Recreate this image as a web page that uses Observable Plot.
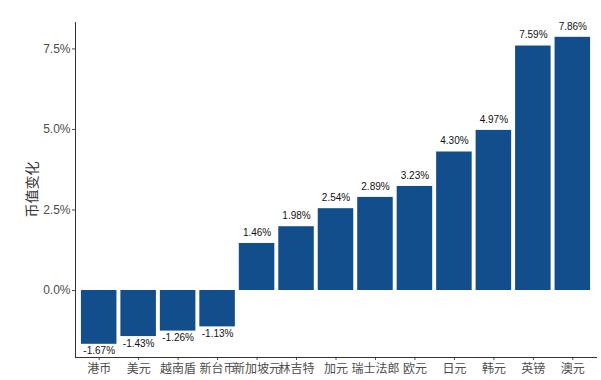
<!DOCTYPE html>
<html><head><meta charset="utf-8">
<script src="https://cdn.jsdelivr.net/npm/d3@7"></script>
<script src="https://cdn.jsdelivr.net/npm/@observablehq/plot@0.6"></script>
<style>
body{margin:0;background:#fff;}
</style>
</head><body><div id="chart"></div>
<script>
const currencies = ["港币","美元","越南盾","新台币","新加坡元","林吉特","加元","瑞士法郎","欧元","日元","韩元","英镑","澳元"];
const changes = [-1.67,-1.43,-1.26,-1.13,1.46,1.98,2.54,2.89,3.23,4.30,4.97,7.59,7.86];
const yTicks = [0, 2.5, 5.0, 7.5];
const yTitle = "币值变化";

const data = currencies.map((c,i)=>({currency:c, value:changes[i]}));
const barColor = "#124e8b";

const chart = Plot.plot({
  width: 601, height: 380,
  marginLeft: 75, marginRight: 5, marginTop: 22, marginBottom: 23,
  style: {fontFamily: "'Liberation Sans', 'Noto Sans CJK SC', sans-serif", background: "#fff"},
  x: {domain: currencies, paddingInner: 0.1, paddingOuter: 0.15, round: false, label: null},
  y: {domain: [-2.08, 8.32], label: null},
  marks: [
    Plot.barY(data, {x: "currency", y: "value", fill: barColor}),
    Plot.text(data.filter(d=>d.value>=0), {x: "currency", y: "value", text: d=>d.value.toFixed(2)+"%", dy: -11, fontSize: 10, fill: "#111"}),
    Plot.text(data.filter(d=>d.value<0), {x: "currency", y: "value", text: d=>d.value.toFixed(2)+"%", dy: 7, fontSize: 10, fill: "#111"}),
    Plot.axisY({ticks: yTicks, tickFormat: d=>d.toFixed(1)+"%", tickSize: 3, tickPadding: 2, fontSize: 12, color: "#4d4d4d", label: null}),
    Plot.axisX({tickSize: 3, tickPadding: 4, fontSize: 12, color: "#4d4d4d", fontFamily: "'Noto Sans CJK SC', serif", label: null}),
    Plot.frame({anchor: "left", stroke: "#333"}),
    Plot.frame({anchor: "bottom", stroke: "#333"})
  ]
});
document.getElementById("chart").appendChild(chart);

// y-axis title
const svg = d3.select(chart);
svg.append("text")
  .attr("transform", "translate(33,189.5) rotate(-90)")
  .attr("text-anchor", "middle")
  .attr("dominant-baseline", "middle")
  .attr("font-size", 14)
  .attr("fill", "#333")
  .attr("font-family", "'Noto Sans CJK SC', sans-serif")
  .text(yTitle);
</script>
</body></html>
